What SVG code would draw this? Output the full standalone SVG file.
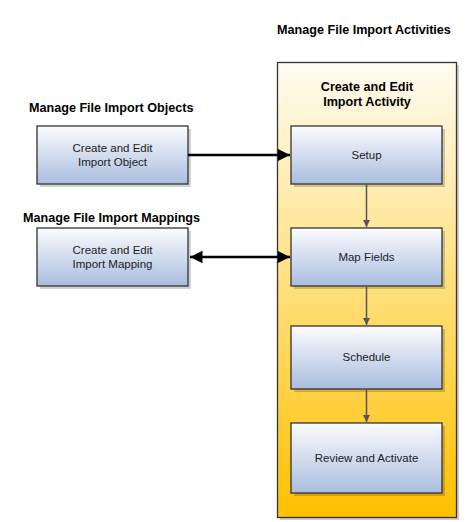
<svg xmlns="http://www.w3.org/2000/svg" width="474" height="522" viewBox="0 0 474 522">
<style>
.title{font-family:"Liberation Sans",Arial,sans-serif;font-weight:bold;font-size:12.6px;fill:#000}
.lbl{font-family:"Liberation Sans",Arial,sans-serif;font-size:11.5px;fill:#222;text-anchor:middle}
.box{fill:url(#nodeGrad);stroke:#333;stroke-width:1.3}
.shadow{fill:#000;opacity:0.18}
.thick{stroke:#000;stroke-width:2.5;fill:none}
.thin{stroke:#555;stroke-width:1.5;fill:none}
</style>
<defs>
<linearGradient id="nodeGrad" x1="0" y1="0" x2="0" y2="1">
<stop offset="0" stop-color="#FBFCFE"/>
<stop offset="1" stop-color="#A9BDDF"/>
</linearGradient>
<linearGradient id="contGrad" x1="0" y1="0" x2="0" y2="1">
<stop offset="0" stop-color="#FFFCF2"/>
<stop offset="0.5" stop-color="#FFDF7A"/>
<stop offset="1" stop-color="#FFC000"/>
</linearGradient>
<marker id="bigArrow" viewBox="0 0 10 10" refX="10" refY="5" markerWidth="5" markerHeight="5" orient="auto-start-reverse" markerUnits="strokeWidth">
<path d="M0,0 L10,5 L0,10 z" fill="#000"/>
</marker>
<marker id="smallArrow" viewBox="0 0 10 10" refX="10" refY="5" markerWidth="5" markerHeight="6" orient="auto" markerUnits="strokeWidth">
<path d="M0,0 L10,5 L0,10 z" fill="#555"/>
</marker>
</defs>
<rect width="474" height="522" fill="#fff"/>

<g id="activities">
<text class="title" x="364" y="34" text-anchor="middle">Manage File Import Activities</text>
<rect x="280" y="65" width="179" height="455" class="shadow"/>
<rect x="277.5" y="62.5" width="179" height="455" fill="url(#contGrad)" stroke="#333" stroke-width="1.3"/>
<text class="title" x="367" y="91" text-anchor="middle">Create and Edit</text>
<text class="title" x="367" y="106" text-anchor="middle">Import Activity</text>
</g>

<g id="setup">
<rect x="294" y="129" width="151" height="58" class="shadow"/>
<rect x="291" y="126" width="151" height="58" class="box"/>
<text class="lbl" x="366.5" y="159">Setup</text>
</g>

<g id="mapfields">
<rect x="294" y="231" width="151" height="58" class="shadow"/>
<rect x="291" y="228" width="151" height="58" class="box"/>
<text class="lbl" x="366.5" y="261">Map Fields</text>
</g>

<g id="schedule">
<rect x="294" y="329" width="151" height="63" class="shadow"/>
<rect x="291" y="326" width="151" height="63" class="box"/>
<text class="lbl" x="366.5" y="361">Schedule</text>
</g>

<g id="review">
<rect x="294" y="426" width="151" height="70" class="shadow"/>
<rect x="291" y="423" width="151" height="70" class="box"/>
<text class="lbl" x="366.5" y="462">Review and Activate</text>
</g>

<g id="objects">
<text class="title" x="29" y="112">Manage File Import Objects</text>
<rect x="40" y="129" width="151" height="58" class="shadow"/>
<rect x="37" y="126" width="151" height="58" class="box"/>
<text class="lbl" x="112.5" y="152">Create and Edit</text>
<text class="lbl" x="112.5" y="166">Import Object</text>
</g>

<g id="mappings">
<text class="title" x="23" y="222">Manage File Import Mappings</text>
<rect x="40" y="231" width="151" height="58" class="shadow"/>
<rect x="37" y="228" width="151" height="58" class="box"/>
<text class="lbl" x="112.5" y="254">Create and Edit</text>
<text class="lbl" x="112.5" y="268">Import Mapping</text>
</g>

<g id="connectors">
<line x1="188" y1="155" x2="290" y2="155" class="thick" marker-end="url(#bigArrow)"/>
<line x1="190" y1="257" x2="290" y2="257" class="thick" marker-start="url(#bigArrow)" marker-end="url(#bigArrow)"/>
<line x1="366.5" y1="184" x2="366.5" y2="227" class="thin" marker-end="url(#smallArrow)"/>
<line x1="366.5" y1="286" x2="366.5" y2="325" class="thin" marker-end="url(#smallArrow)"/>
<line x1="366.5" y1="389" x2="366.5" y2="422" class="thin" marker-end="url(#smallArrow)"/>
</g>
</svg>
